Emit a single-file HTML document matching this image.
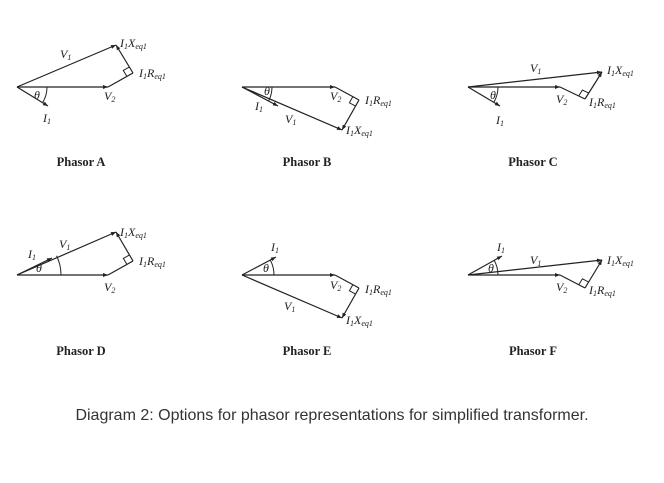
<!DOCTYPE html>
<html><head><meta charset="utf-8">
<style>
html,body{margin:0;padding:0;background:#fff;}
body{width:664px;height:483px;overflow:hidden;position:relative;}
svg{position:absolute;left:0;top:0;}
.cap{position:absolute;left:0;width:664px;top:407px;text-align:center;font-family:"Liberation Sans",sans-serif;font-size:16px;color:#333;}
</style></head><body>
<svg id="s" width="664" height="483" xmlns="http://www.w3.org/2000/svg"></svg>
<div class="cap">Diagram 2: Options for phasor representations for simplified transformer.</div>
<script>
var S=document.getElementById('s');var out='';
function ln(a,b,arrow){out+='<line x1="'+a[0]+'" y1="'+a[1]+'" x2="'+b[0]+'" y2="'+b[1]+'" stroke="#222" stroke-width="1.2"/>';
 if(arrow){var dx=b[0]-a[0],dy=b[1]-a[1],L=Math.hypot(dx,dy);dx/=L;dy/=L;var s=5,w=2;
 out+='<polygon points="'+b[0]+','+b[1]+' '+(b[0]-dx*s-dy*w)+','+(b[1]-dy*s+dx*w)+' '+(b[0]-dx*s+dy*w)+','+(b[1]-dy*s-dx*w)+'" fill="#222"/>';}}
function sq(p,a,b){var s=7;function u(q){var dx=q[0]-p[0],dy=q[1]-p[1],L=Math.hypot(dx,dy);return[dx/L*s,dy/L*s];}
 var ua=u(a),ub=u(b);out+='<polyline points="'+(p[0]+ua[0])+','+(p[1]+ua[1])+' '+(p[0]+ua[0]+ub[0])+','+(p[1]+ua[1]+ub[1])+' '+(p[0]+ub[0])+','+(p[1]+ub[1])+'" fill="none" stroke="#222" stroke-width="1"/>';}
function arc(o,a1,a2,r){function pt(q){var dx=q[0]-o[0],dy=q[1]-o[1],L=Math.hypot(dx,dy);return[o[0]+dx/L*r,o[1]+dy/L*r];}
 var p1=pt(a1),p2=pt(a2);out+='<path d="M'+p1[0]+' '+p1[1]+' A'+r+' '+r+' 0 0 '+(((a1[0]-o[0])*(a2[1]-o[1])-(a1[1]-o[1])*(a2[0]-o[0]))>0?1:0)+' '+p2[0]+' '+p2[1]+'" fill="none" stroke="#222" stroke-width="1"/>';}
function t(x,y,m,sub){out+='<text x="'+x+'" y="'+y+'" font-family="Liberation Serif,serif" font-style="italic" font-size="12" fill="#222">'+m+(sub?'<tspan font-size="8" dy="2">'+sub+'</tspan>':'')+'</text>';}
function ix(x,y){out+='<text x="'+x+'" y="'+y+'" font-family="Liberation Serif,serif" font-style="italic" font-size="12" fill="#222">I<tspan font-size="8" dy="2">1</tspan><tspan dy="-2">X</tspan><tspan font-size="8" dy="2">eq1</tspan></text>';}
function ir(x,y){out+='<text x="'+x+'" y="'+y+'" font-family="Liberation Serif,serif" font-style="italic" font-size="12" fill="#222">I<tspan font-size="8" dy="2">1</tspan><tspan dy="-2">R</tspan><tspan font-size="8" dy="2">eq1</tspan></text>';}
function title(x,y,s){out+='<text x="'+x+'" y="'+y+'" text-anchor="middle" font-family="Liberation Serif,serif" font-weight="bold" font-size="12.5" fill="#222">'+s+'</text>';}
function ph(o,v2,r,x,i,th){ln(o,v2,1);ln(v2,r,0);ln(r,x,1);ln(o,x,1);ln(o,i,1);sq(r,v2,x);arc(o,v2,i,th);}
ph([17,87],[108,87],[133,73],[116,45],[48,106],30);
t(60,58,'V','1');t(104,100,'V','2');t(43,122,'I','1');ix(120,47);ir(139,77);t(34,99,'θ');title(81,166,'Phasor A');
ph([242,87],[335,87],[359,100],[342,130],[278,106],30);
t(330,100,'V','2');ir(365,104);t(255,110,'I','1');t(285,123,'V','1');ix(346,134);t(264,95,'θ');title(307,166,'Phasor B');
ph([468,87],[560,87],[585,99],[602,72],[500,106],30);
t(530,72,'V','1');t(556,103,'V','2');ix(607,74);ir(589,106);t(496,124,'I','1');t(490,99,'θ');title(533,166,'Phasor C');
ph([17,275],[108,275],[133,261],[116,232],[52,258],44);
t(28,258,'I','1');t(59,248,'V','1');t(104,291,'V','2');ix(120,236);ir(139,265);t(36,272,'θ');title(81,355,'Phasor D');
ph([242,275],[335,275],[359,288],[342,318],[276,257],32);
t(271,251,'I','1');t(330,289,'V','2');ir(365,293);t(284,310,'V','1');ix(346,324);t(263,272,'θ');title(307,355,'Phasor E');
ph([468,275],[560,275],[585,288],[602,260],[502,256],30);
t(497,251,'I','1');t(530,264,'V','1');t(556,291,'V','2');ix(607,264);ir(589,294);t(488,272,'θ');title(533,355,'Phasor F');
S.innerHTML=out;
</script>
</body></html>
